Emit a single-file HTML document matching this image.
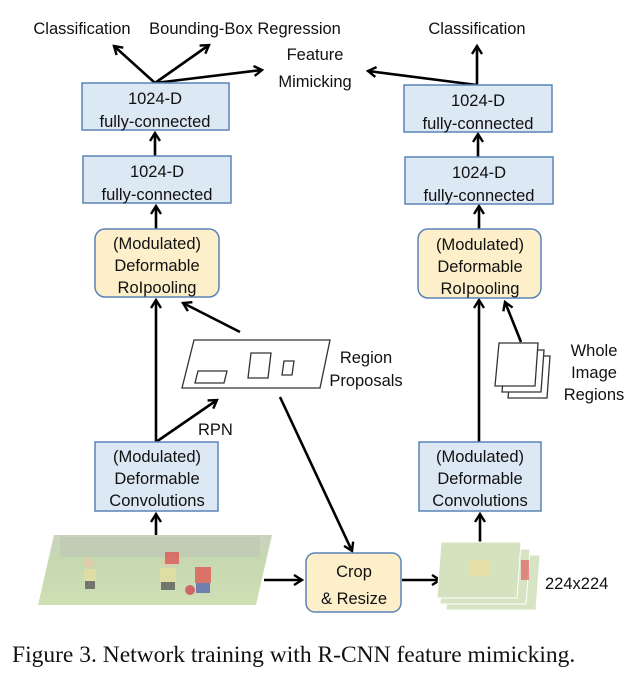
<!DOCTYPE html>
<html><head><meta charset="utf-8"><style>
html,body{margin:0;padding:0;background:#fff;}
svg text{font-family:"Liberation Sans",sans-serif;font-size:16.5px;fill:#111;}
</style></head><body>
<svg width="641" height="678" viewBox="0 0 641 678" xmlns="http://www.w3.org/2000/svg">
<defs>
<marker id="a" markerWidth="12" markerHeight="12" refX="9" refY="6" orient="auto" markerUnits="userSpaceOnUse">
<path d="M1,1 L9,6 L1,11" fill="none" stroke="#000" stroke-width="2.4"/></marker>
<linearGradient id="g" x1="0" y1="0" x2="0" y2="1">
<stop offset="0" stop-color="#c9d3bf"/><stop offset="0.35" stop-color="#c6d8b0"/><stop offset="1" stop-color="#cfe0b4"/></linearGradient>
</defs>
<!-- top labels -->
<text x="82" y="34" text-anchor="middle">Classification</text>
<text x="245" y="34" text-anchor="middle">Bounding-Box Regression</text>
<text x="477" y="34" text-anchor="middle">Classification</text>
<text x="315" y="60" text-anchor="middle">Feature</text>
<text x="315" y="87" text-anchor="middle">Mimicking</text>
<g stroke="#000" stroke-width="2.6" fill="none">
<line x1="155" y1="83" x2="114" y2="46" marker-end="url(#a)"/>
<line x1="155" y1="83" x2="209" y2="45" marker-end="url(#a)"/>
<line x1="155" y1="83" x2="262" y2="70" marker-end="url(#a)"/>
<line x1="477" y1="85" x2="477" y2="46" marker-end="url(#a)"/>
<line x1="477" y1="85" x2="368" y2="71" marker-end="url(#a)"/>
<line x1="155" y1="156" x2="155" y2="133" marker-end="url(#a)"/>
<line x1="156" y1="229" x2="156" y2="206" marker-end="url(#a)"/>
<line x1="478" y1="157" x2="478" y2="134" marker-end="url(#a)"/>
<line x1="479" y1="229" x2="479" y2="206" marker-end="url(#a)"/>
<line x1="156" y1="442" x2="156" y2="300" marker-end="url(#a)"/>
<line x1="156" y1="442" x2="217" y2="400" marker-end="url(#a)"/>
<line x1="240" y1="332" x2="183" y2="303" marker-end="url(#a)"/>
<line x1="479" y1="442" x2="479" y2="300" marker-end="url(#a)"/>
<line x1="521" y1="342" x2="505" y2="302" marker-end="url(#a)"/>
<line x1="280" y1="397" x2="352" y2="551" marker-end="url(#a)"/>
<line x1="156" y1="568" x2="156" y2="514" marker-end="url(#a)"/>
<line x1="480" y1="568" x2="480" y2="514" marker-end="url(#a)"/>
<line x1="264" y1="580" x2="302" y2="580" marker-end="url(#a)"/>
<line x1="402" y1="580" x2="440" y2="580" marker-end="url(#a)"/>
</g>
<!-- boxes -->
<g stroke="#5a84b8" stroke-width="1.5" fill="#dde8f5">
<rect x="82" y="83" width="147" height="47"/>
<rect x="83" y="156" width="148" height="47"/>
<rect x="404" y="85" width="148" height="47"/>
<rect x="405" y="157" width="148" height="47"/>
<rect x="95" y="442" width="123" height="69"/>
<rect x="419" y="442" width="122" height="69"/>
</g>
<g stroke="#5a84b8" stroke-width="1.5" fill="#fdefc9">
<rect x="95" y="229" width="124" height="68" rx="10"/>
<rect x="418" y="229" width="123" height="69" rx="10"/>
<rect x="306" y="553" width="95" height="59" rx="9"/>
</g>
<g text-anchor="middle">
<text x="155" y="104">1024-D</text><text x="155" y="127">fully-connected</text>
<text x="157" y="177">1024-D</text><text x="157" y="200">fully-connected</text>
<text x="478" y="106">1024-D</text><text x="478" y="129">fully-connected</text>
<text x="479" y="178">1024-D</text><text x="479" y="201">fully-connected</text>
<text x="157" y="249">(Modulated)</text><text x="157" y="271">Deformable</text><text x="157" y="293">RoIpooling</text>
<text x="480" y="250">(Modulated)</text><text x="480" y="272">Deformable</text><text x="480" y="294">RoIpooling</text>
<text x="157" y="462">(Modulated)</text><text x="157" y="484">Deformable</text><text x="157" y="506">Convolutions</text>
<text x="480" y="462">(Modulated)</text><text x="480" y="484">Deformable</text><text x="480" y="506">Convolutions</text>
<text x="354" y="577">Crop</text><text x="354" y="604">&amp; Resize</text>
<text x="366" y="363">Region</text><text x="366" y="386">Proposals</text>
<text x="594" y="356">Whole</text><text x="594" y="378">Image</text><text x="594" y="400">Regions</text>
</g>
<text x="198" y="435">RPN</text>
<text x="545" y="589">224x224</text>
<!-- region proposals -->
<g stroke="#333" stroke-width="1.3" fill="#fff">
<polygon points="194,340 330,340 320,388 182,388"/>
<polygon points="198,371 227,371 224,383 195,383"/>
<polygon points="251,353 271,353 268,378 248,378"/>
<polygon points="284,361 294,361 292,375 282,375"/>
<polygon points="512,356 550,356 547,398 508,398"/>
<polygon points="506,350 544,350 541,392 502,392"/>
<polygon points="499,343 538,343 535,386 495,386"/>
</g>
<!-- photo -->
<polygon points="54,535 272,535 256,605 38,605" fill="url(#g)"/>
<rect x="60" y="537" width="200" height="20" fill="#bfc7b3" opacity="0.7"/>
<g opacity="0.75">
<circle cx="89" cy="563" r="5" fill="#e8c8a8"/><rect x="84" y="569" width="12" height="12" fill="#e6e0a0"/><rect x="85" y="581" width="10" height="8" fill="#555"/>
<circle cx="167" cy="562" r="5" fill="#e8c8a8"/><rect x="160" y="568" width="16" height="14" fill="#e6e0a0"/><rect x="161" y="582" width="14" height="8" fill="#555"/>
<rect x="195" y="567" width="16" height="16" fill="#e05050"/><rect x="196" y="583" width="14" height="10" fill="#5060b0"/><circle cx="190" cy="590" r="5" fill="#d04050"/>
<rect x="165" y="552" width="14" height="12" fill="#e05050"/>
</g>
<!-- stacked crops -->
<polygon points="450,555 540,555 536,610 446,610" fill="#d6e4c4" stroke="#fff"/>
<polygon points="444,549 530,549 526,604 440,604" fill="#d6e4c4" stroke="#fff"/>
<polygon points="441,542 521,542 517,598 437,598" fill="#d4e2c0" stroke="#fff"/>
<rect x="470" y="560" width="20" height="16" fill="#e8e0a0" opacity="0.8"/>
<rect x="521" y="560" width="8" height="20" fill="#e06060" opacity="0.7"/>
<text x="12" y="662" style="font-family:'Liberation Serif',serif;font-size:23.5px">Figure 3. Network training with R-CNN feature mimicking.</text>
</svg>
</body></html>
